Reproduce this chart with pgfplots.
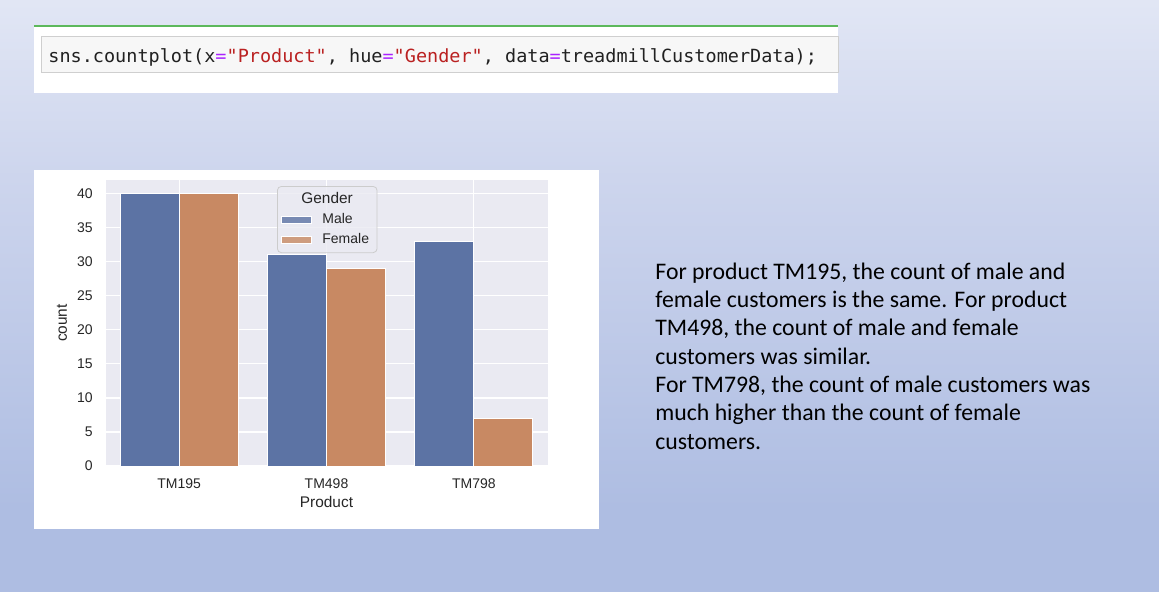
\documentclass[border=0pt]{standalone}
\usepackage{fontspec}
\setmainfont{Carlito}
\newfontfamily\axisfont{Liberation Sans}
\newfontfamily\codefont[FakeStretch=1.02]{DejaVu Sans Mono}
\usepackage{pgfplots}
\pgfplotsset{compat=1.18}

\definecolor{bgblue}{RGB}{174,189,226}
\definecolor{bgmid}{RGB}{205,213,237}
\definecolor{bglight}{RGB}{232,236,247}
\definecolor{sbbg}{RGB}{234,234,242}
\definecolor{male}{RGB}{92,115,164}
\definecolor{female}{RGB}{200,137,99}
\definecolor{linegreen}{RGB}{92,184,92}
\definecolor{strred}{RGB}{186,33,33}
\definecolor{oppurple}{RGB}{170,34,255}
\definecolor{sbtext}{RGB}{38,38,38}

\pgfdeclareverticalshading{slidebg}{100bp}{color(0bp)=(bgblue); color(32bp)=(bgblue); color(60bp)=(bgmid); color(80bp)=(bglight); color(96bp)=(white); color(100bp)=(white)}

\pgfplotsset{
  barlegend/.style={legend image code/.code={\fill[##1, sharp corners] (0pt,-1.9pt) rectangle (15pt,1.9pt);}},
}

\begin{document}
\begin{tikzpicture}
% slide background
\shade[shading=slidebg] (0pt,0pt) rectangle (579.5pt,295.5pt);

% code cell
\fill[white] (17pt,249pt) rectangle (419pt,282pt);
\draw[linegreen, line width=0.6pt] (17pt,282.5pt) -- (419pt,282.5pt);
\filldraw[fill={rgb,255:red,247;green,247;blue,247}, draw={rgb,255:red,207;green,207;blue,207}, line width=0.5pt]
  (20.85pt,259.5pt) rectangle (419pt,277.15pt);
\node[anchor=base west, inner sep=0pt, text={rgb,255:red,33;green,33;blue,33}, font=\codefont\fontsize{9.07pt}{11pt}\selectfont] at (24pt,264.15pt)
  {sns.countplot(x\textcolor{oppurple}{=}\textcolor{strred}{"Product"}, hue\textcolor{oppurple}{=}\textcolor{strred}{"Gender"}, data\textcolor{oppurple}{=}treadmillCustomerData);};

% chart panel
\fill[white] (17pt,31pt) rectangle (299.5pt,210.5pt);

\begin{axis}[
    at={(52.75pt,62.5pt)}, anchor=south west,
    scale only axis, width=221pt, height=143pt,
    xmin=-0.5, xmax=2.5, ymin=0, ymax=42,
    ybar=0pt, bar width=29.5pt,
    axis background/.style={fill=sbbg},
    axis line style={draw=none},
    grid=major, major grid style={white, line width=0.6pt},
    major tick length=0pt,
    xtick={0,1,2}, xticklabels={TM195,TM498,TM798},
    ytick={0,5,...,40},
    /pgf/number format/assume math mode=true,
    tick label style={font=\axisfont\fontsize{7pt}{8pt}\selectfont, text=sbtext},
    yticklabel style={xshift=-2.9pt},
    xticklabel style={yshift=-3pt},
    xlabel={Product}, ylabel={count},
    label style={font=\axisfont\fontsize{7.7pt}{9pt}\selectfont, text=sbtext},
    xlabel style={at={(axis description cs:0.5,-0.126)}, anchor=center},
    ylabel style={at={(axis description cs:-0.0984,0.5)}, anchor=center},
    legend cell align=left,
    legend style={at={(0.388,0.979)}, anchor=north west,
      fill=sbbg, fill opacity=0.8, text opacity=1,
      draw={rgb,255:red,204;green,204;blue,204}, rounded corners=2pt,
      font=\axisfont\fontsize{7pt}{8pt}\selectfont, text=sbtext,
      inner xsep=2pt, inner ysep=1pt, row sep=-0.55pt,
      /tikz/every even column/.append style={column sep=6pt}},
]
\addlegendimage{empty legend}
\addlegendentry{\hspace*{-7.5pt}\fontsize{7.7pt}{9pt}\selectfont Gender}
\addplot[fill=male, draw=white, line width=0.5pt, barlegend] coordinates {(0,40) (1,31) (2,33)};
\addlegendentry{\hspace*{3pt}Male}
\addplot[fill=female, draw=white, line width=0.5pt, barlegend] coordinates {(0,40) (1,29) (2,7)};
\addlegendentry{\hspace*{3pt}Female}
\end{axis}

% commentary
\node[anchor=base west, inner sep=0pt, align=left, font=\fontsize{11.88pt}{14.15pt}\selectfont] at (327.5pt,71pt)
  {For product TM195, the count of male and\\
   female customers is the same. For product\\
   TM498, the count of male and female\\
   customers was similar.\\
   For TM798, the count of male customers was\\
   much higher than the count of female\\
   customers.};
\end{tikzpicture}
\end{document}
